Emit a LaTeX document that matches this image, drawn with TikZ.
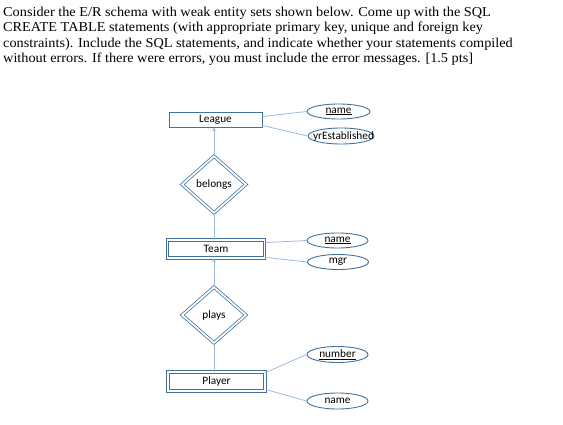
\documentclass[tikz,border=0pt]{standalone}
\usepackage{fontspec}
\setmainfont{Liberation Serif}[FakeStretch=1.05]
\newfontfamily\erfont{Carlito}
\usetikzlibrary{shapes,arrows,positioning}
\definecolor{erblue}{HTML}{41719C}
\definecolor{erline}{HTML}{9DB9E0}

\tikzset{
  entity/.style={draw=erblue, line width=0.9pt, minimum height=15pt, inner sep=1pt, font=\erfont\fontsize{11.3}{12}\selectfont},
  weakentity/.style={entity, double=white, double distance=1.8pt, line width=0.75pt},
  weakrel/.style={diamond, aspect=1.12, inner sep=0pt, draw=erblue, double=white, double distance=1.8pt, line width=0.75pt, font=\erfont\fontsize{11.3}{12}\selectfont},
  attr/.style={ellipse, draw=erblue, line width=0.9pt, inner sep=0pt, font=\erfont\fontsize{11.3}{12}\selectfont},
  link/.style={draw=erline, line width=0.8pt}
}

\begin{document}
\begin{tikzpicture}[x=1pt, y=-1pt]
      \useasboundingbox (0,0) rectangle (563,424);
      \node[anchor=north west, align=left, inner sep=0pt, font=\fontsize{13.6}{15.5}\selectfont] (task) at (3,6.5)
        {Consider the E/R schema with weak entity sets shown below. Come up with the SQL\\
         CREATE TABLE statements (with appropriate primary key, unique and foreign key\\
         constraints). Include the SQL statements, and indicate whether your statements compiled\\
         without errors. If there were errors, you must include the error messages. [1.5 pts]};

      \node[entity, minimum width=93pt] (league) at (215.5,119.5) {League};
      \node[weakrel, minimum width=64pt, minimum height=57pt] (belongs) at (214,184.5) {belongs};
      \node[weakentity, minimum width=97pt, minimum height=18pt] (team) at (216,249) {Team};
      \node[weakrel, minimum width=64pt, minimum height=56pt] (plays) at (214,315) {plays};
      \node[weakentity, minimum width=97pt, minimum height=19pt] (player) at (216.5,381.5) {Player};

      \node[attr, minimum width=63pt, minimum height=15pt] (lname) at (338.5,111.5) {\underline{name}};
      \node[attr, minimum width=66pt, minimum height=16pt] (lyr) at (341,136) {\makebox[0pt]{\hspace*{5pt}yrEstablished}};
      \node[attr, minimum width=61pt, minimum height=15pt] (tname) at (337.5,240.5) {\underline{name}};
      \node[attr, minimum width=61pt, minimum height=15pt] (tmgr) at (338,262) {mgr};
      \node[attr, minimum width=61pt, minimum height=16pt] (pnum) at (337.5,354.5) {\underline{number}};
      \node[attr, minimum width=61pt, minimum height=16pt] (pname) at (337.5,401) {name};

      \draw[link, ->, >=stealth] (belongs.north) -- (league.south -| belongs.north);
      \draw[link, ->, >=stealth] (plays.north) -- (team.south -| plays.north);
      \draw[link] (team.north -| belongs.south) -- (belongs.south);
      \draw[link] (plays.south) -- (player.north -| plays.south);

      \draw[link] ([yshift=-5pt]league.north east) -- (lname.west);
      \draw[link] ([yshift=2pt]league.south east) -- (lyr.west);
      \draw[link] ([yshift=-3pt]team.north east) -- (tname.west);
      \draw[link] ([yshift=1pt]team.south east) -- (tmgr.west);
      \draw[link] ([yshift=-1pt]player.north east) -- (pnum.west);
      \draw[link] ([yshift=2pt]player.south east) -- (pname.west);
\end{tikzpicture}
\end{document}
